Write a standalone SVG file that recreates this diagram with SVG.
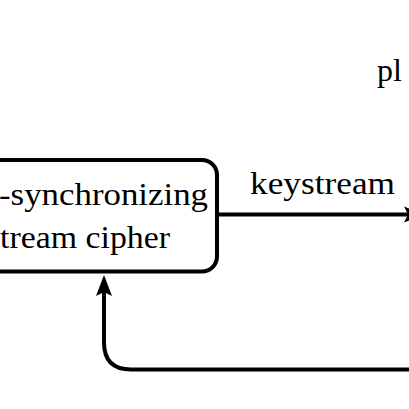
<svg xmlns="http://www.w3.org/2000/svg" width="409" height="409" viewBox="0 0 409 409">
  <style>
    .lbl { font-family: "Liberation Serif", "DejaVu Serif", serif; font-size: 32px; fill: #000; }
    .box { fill: #fff; stroke: #000; stroke-width: 4; }
    .wire { fill: none; stroke: #000; stroke-width: 4; }
    .head { fill: #000; stroke: none; }
  </style>
  <rect x="0" y="0" width="409" height="409" fill="#fff"/>
  <g id="connectors">
    <path class="wire" d="M217,214.5 H408"/>
    <path class="head" d="M425,214.5 L404,206.5 L408,214.5 L404,222.5 Z"/>
    <path class="wire" d="M409,369.5 H131 Q104,369.5 104,342.5 V292"/>
    <path class="head" d="M104,275 L96,296 L104,292 L112,296 Z"/>
  </g>
  <g id="cipher">
    <rect class="box" x="-40" y="160" width="257" height="111.5" rx="15" ry="15"/>
    <text class="lbl" x="-1" y="205" textLength="209" lengthAdjust="spacingAndGlyphs">-synchronizing</text>
    <text class="lbl" x="0" y="248" textLength="170" lengthAdjust="spacingAndGlyphs">tream cipher</text>
  </g>
  <g id="keystream-label">
    <text class="lbl" x="250" y="194" textLength="145" lengthAdjust="spacingAndGlyphs">keystream</text>
  </g>
  <g id="plaintext-label">
    <text class="lbl" x="377" y="81">pl</text>
  </g>
</svg>
